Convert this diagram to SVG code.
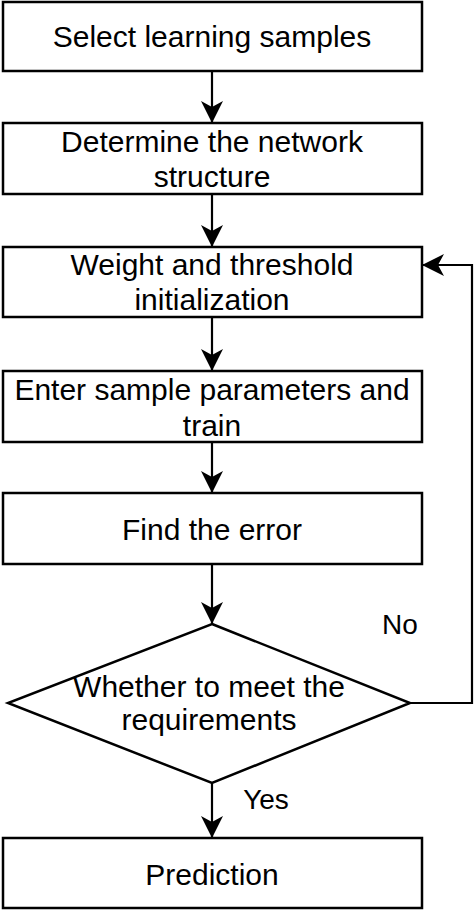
<svg xmlns="http://www.w3.org/2000/svg" width="474" height="911" viewBox="0 0 474 911">
<defs>
<style>
.box{fill:#fff;stroke:#000;stroke-width:2.5}
.t{font-family:"Liberation Sans",Arial,sans-serif;font-size:30px;fill:#000;text-anchor:middle}
.c{fill:none;stroke:#000;stroke-width:2.2}
</style>
<marker id="ah" markerUnits="userSpaceOnUse" markerWidth="24" markerHeight="24" viewBox="-23 -12 24 24" refX="0" refY="0" orient="auto">
<path d="M0,0 L-22,-11 L-16,0 L-22,11 Z" fill="#000"/>
</marker>
</defs>
<rect width="474" height="911" fill="#fff"/>
<g id="connectors">
<line class="c" x1="212" y1="71" x2="212" y2="123" marker-end="url(#ah)"/>
<line class="c" x1="212" y1="194" x2="212" y2="247" marker-end="url(#ah)"/>
<line class="c" x1="212" y1="317" x2="212" y2="371" marker-end="url(#ah)"/>
<line class="c" x1="212" y1="442" x2="212" y2="493" marker-end="url(#ah)"/>
<line class="c" x1="212" y1="564" x2="212" y2="624" marker-end="url(#ah)"/>
<line class="c" x1="212" y1="783" x2="212" y2="838" marker-end="url(#ah)"/>
<polyline class="c" points="410,703 472,703 472,265 422,265" marker-end="url(#ah)"/>
<text class="t" x="400" y="634" style="font-size:28px">No</text>
<text class="t" x="266" y="809" style="font-size:28px">Yes</text>
</g>
<g id="n1"><rect class="box" x="3" y="2" width="419" height="69"/><text class="t" x="212" y="47">Select learning samples</text></g>
<g id="n2"><rect class="box" x="3" y="123" width="419" height="71"/><text class="t" x="212" y="152">Determine the network</text><text class="t" x="212" y="187">structure</text></g>
<g id="n3"><rect class="box" x="3" y="247" width="419" height="70"/><text class="t" x="212" y="275">Weight and threshold</text><text class="t" x="212" y="310">initialization</text></g>
<g id="n4"><rect class="box" x="3" y="371" width="419" height="71"/><text class="t" x="212" y="400">Enter sample parameters and</text><text class="t" x="212" y="436">train</text></g>
<g id="n5"><rect class="box" x="3" y="493" width="419" height="71"/><text class="t" x="212" y="540">Find the error</text></g>
<g id="n6"><polygon class="box" points="212,624 410,703 212,783 8,703"/><text class="t" x="209" y="697">Whether to meet the</text><text class="t" x="209" y="730">requirements</text></g>
<g id="n7"><rect class="box" x="3" y="838" width="419" height="70"/><text class="t" x="212" y="885">Prediction</text></g>
</svg>
